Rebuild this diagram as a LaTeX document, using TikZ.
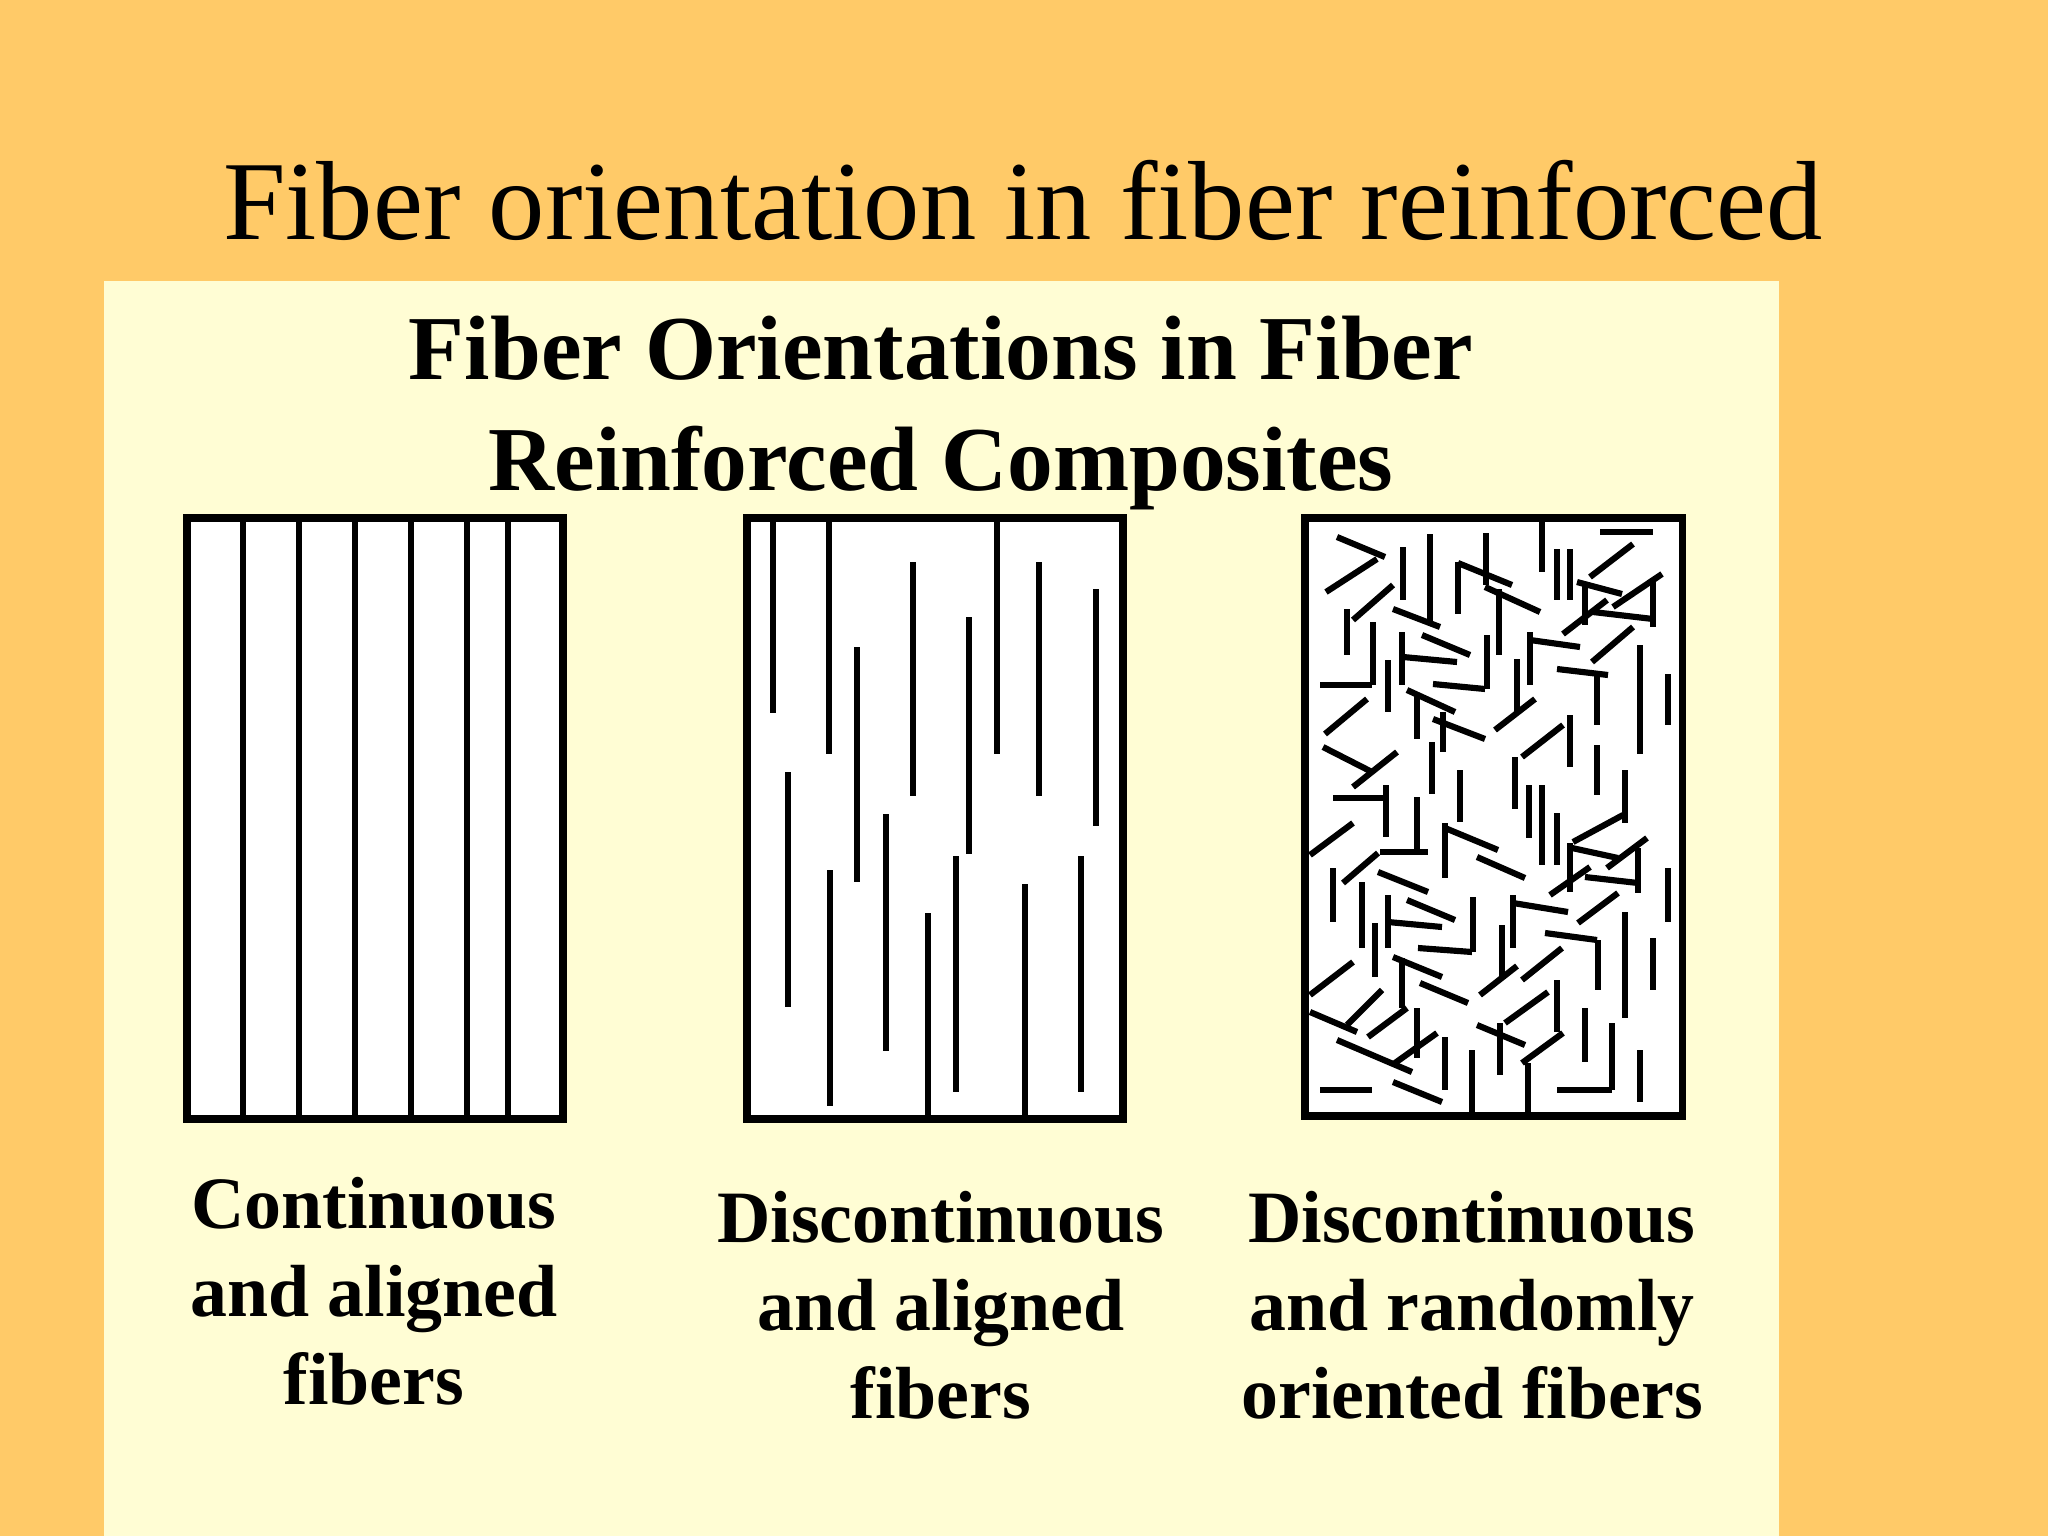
\documentclass[tikz,border=0pt]{standalone}
\usepackage{fontspec}
\setmainfont{Liberation Serif}
\usepackage{xcolor}
\usepackage{tikz}
\usetikzlibrary{positioning}
\definecolor{slidebg}{HTML}{FFCA68}
\definecolor{panelbg}{HTML}{FFFDD4}

\begin{document}
\begin{tikzpicture}[
  x=0.01cm, y=-0.01cm,
  fibrebox/.style={draw, fill=white, line width=2pt},
  fiber/.style={line width=1.8pt},
  shortfiber/.style={line width=1.75pt},
  heading/.style={anchor=base, font=\fontsize{26}{31}\selectfont\bfseries},
  caption/.style={anchor=base, align=center, font=\fontsize{21}{25}\selectfont\bfseries}
]
  \useasboundingbox (0,0) rectangle (2048,1536);
  \fill[slidebg] (0,0) rectangle (2048,1536);
  \fill[panelbg] (104,281) rectangle (1779,1536);

  \node[anchor=base, font=\fontsize{32}{38}\selectfont] (title) at (1023,239) {Fiber orientation in fiber reinforced};
  \node[heading] (head1) at (941,379) {Fiber Orientations in Fiber};
  \node[heading] (head2) at (941,490) {Reinforced Composites};

  % continuous and aligned
  \draw[fibrebox] (187,518) rectangle (563,1119);
  \foreach \xx in {243,299,355,411,467,508}
    \draw[fiber] (\xx,518) -- (\xx,1119);

  % discontinuous and aligned
  \draw[fibrebox] (747,518) rectangle (1123,1119);
  \foreach \xx/\ya/\yb in {773/518/713, 829/518/754, 913/562/796, 997/518/754,
      1039/562/796, 1096/589/826, 788/772/1007, 857/647/882, 969/617/854,
      830/870/1106, 886/814/1051, 928/913/1119, 956/856/1092, 1025/884/1119,
      1081/856/1092}
    \draw[fiber] (\xx,\ya) -- (\xx,\yb);

  % discontinuous and randomly oriented
  \draw[fibrebox] (1305,518) rectangle (1682,1116);
  \foreach \xa/\ya/\xb/\yb in {1337/537/1385/557, 1326/592/1377/559, 1430/534/1430/625,
      1403/547/1403/600, 1353/620/1393/585, 1347/609/1347/655, 1393/609/1440/627,
      1458/562/1458/614, 1458/563/1512/585, 1320/685/1372/685, 1373/622/1373/685,
      1402/632/1402/685, 1422/635/1470/655, 1403/657/1457/662, 1487/635/1487/689,
      1433/684/1485/689, 1388/660/1388/712, 1407/690/1455/712, 1433/719/1485/739,
      1417/694/1417/739, 1443/712/1443/752, 1325/734/1367/699, 1323/747/1372/772,
      1353/787/1397/752, 1333/798/1388/798, 1386/785/1386/837, 1432/742/1432/794,
      1460/770/1460/822, 1417/797/1417/850, 1380/852/1428/852, 1486/533/1486/585,
      1485/587/1540/612, 1499/589/1499/655, 1542/522/1542/572, 1600/532/1653/532,
      1557/549/1557/600, 1570/549/1570/600, 1633/544/1590/577, 1577/582/1622/594,
      1662/574/1613/607, 1653/579/1653/627, 1593/612/1653/619, 1563/634/1607/600,
      1585/584/1585/625, 1633/627/1592/662, 1530/632/1530/685, 1530/640/1580/647,
      1557/669/1608/675, 1597/674/1597/725, 1640/645/1640/754, 1668/674/1668/725,
      1517/659/1517/712, 1495/730/1535/699, 1522/757/1563/725, 1515/757/1515/809,
      1570/715/1570/767, 1597/745/1597/795, 1625/770/1625/823, 1529/785/1529/838,
      1542/785/1542/865, 1557/813/1557/865, 1573/842/1623/815, 1570/843/1570/892,
      1572/848/1618/858, 1647/838/1607/868, 1638/848/1638/893, 1585/877/1638/883,
      1550/895/1590/867, 1445/828/1498/850, 1477/857/1525/878, 1513/895/1513/948,
      1513/903/1568/912, 1502/925/1502/978, 1480/995/1517/966, 1578/923/1618/893,
      1545/933/1597/940, 1598/940/1598/990, 1625/912/1625/1018, 1653/938/1653/990,
      1668/868/1668/922, 1522/980/1562/948, 1557/980/1557/1032, 1505/1023/1548/992,
      1477/1025/1525/1045, 1500/1023/1500/1075, 1522/1063/1563/1033, 1528/1063/1528/1115,
      1585/1008/1585/1062, 1612/1023/1612/1090, 1557/1090/1612/1090, 1640/1050/1640/1102,
      1310/855/1353/823, 1378/853/1343/883, 1333/868/1333/922, 1362/882/1362/948,
      1378/872/1428/892, 1445/823/1445/878, 1407/900/1455/920, 1388/895/1388/948,
      1388/922/1442/927, 1473/897/1473/952, 1418/948/1472/952, 1375/923/1375/977,
      1393/957/1442/977, 1402/958/1402/1008, 1310/995/1353/962, 1420/983/1468/1003,
      1310/1012/1357/1032, 1347/1025/1382/990, 1368/1037/1407/1008, 1417/1008/1417/1058,
      1337/1040/1412/1072, 1395/1063/1437/1033, 1445/1037/1445/1090, 1320/1090/1372/1090,
      1393/1082/1442/1102, 1472/1050/1472/1115}
    \draw[shortfiber] (\xa,\ya) -- (\xb,\yb);

  \node[caption] (cap1) at (374,1404) {Continuous\\and aligned\\fibers};
  \node[caption] (cap2) at (941,1418) {Discontinuous\\and aligned\\fibers};
  \node[caption] (cap3) at (1472,1418) {Discontinuous\\and randomly\\oriented fibers};
\end{tikzpicture}
\end{document}
